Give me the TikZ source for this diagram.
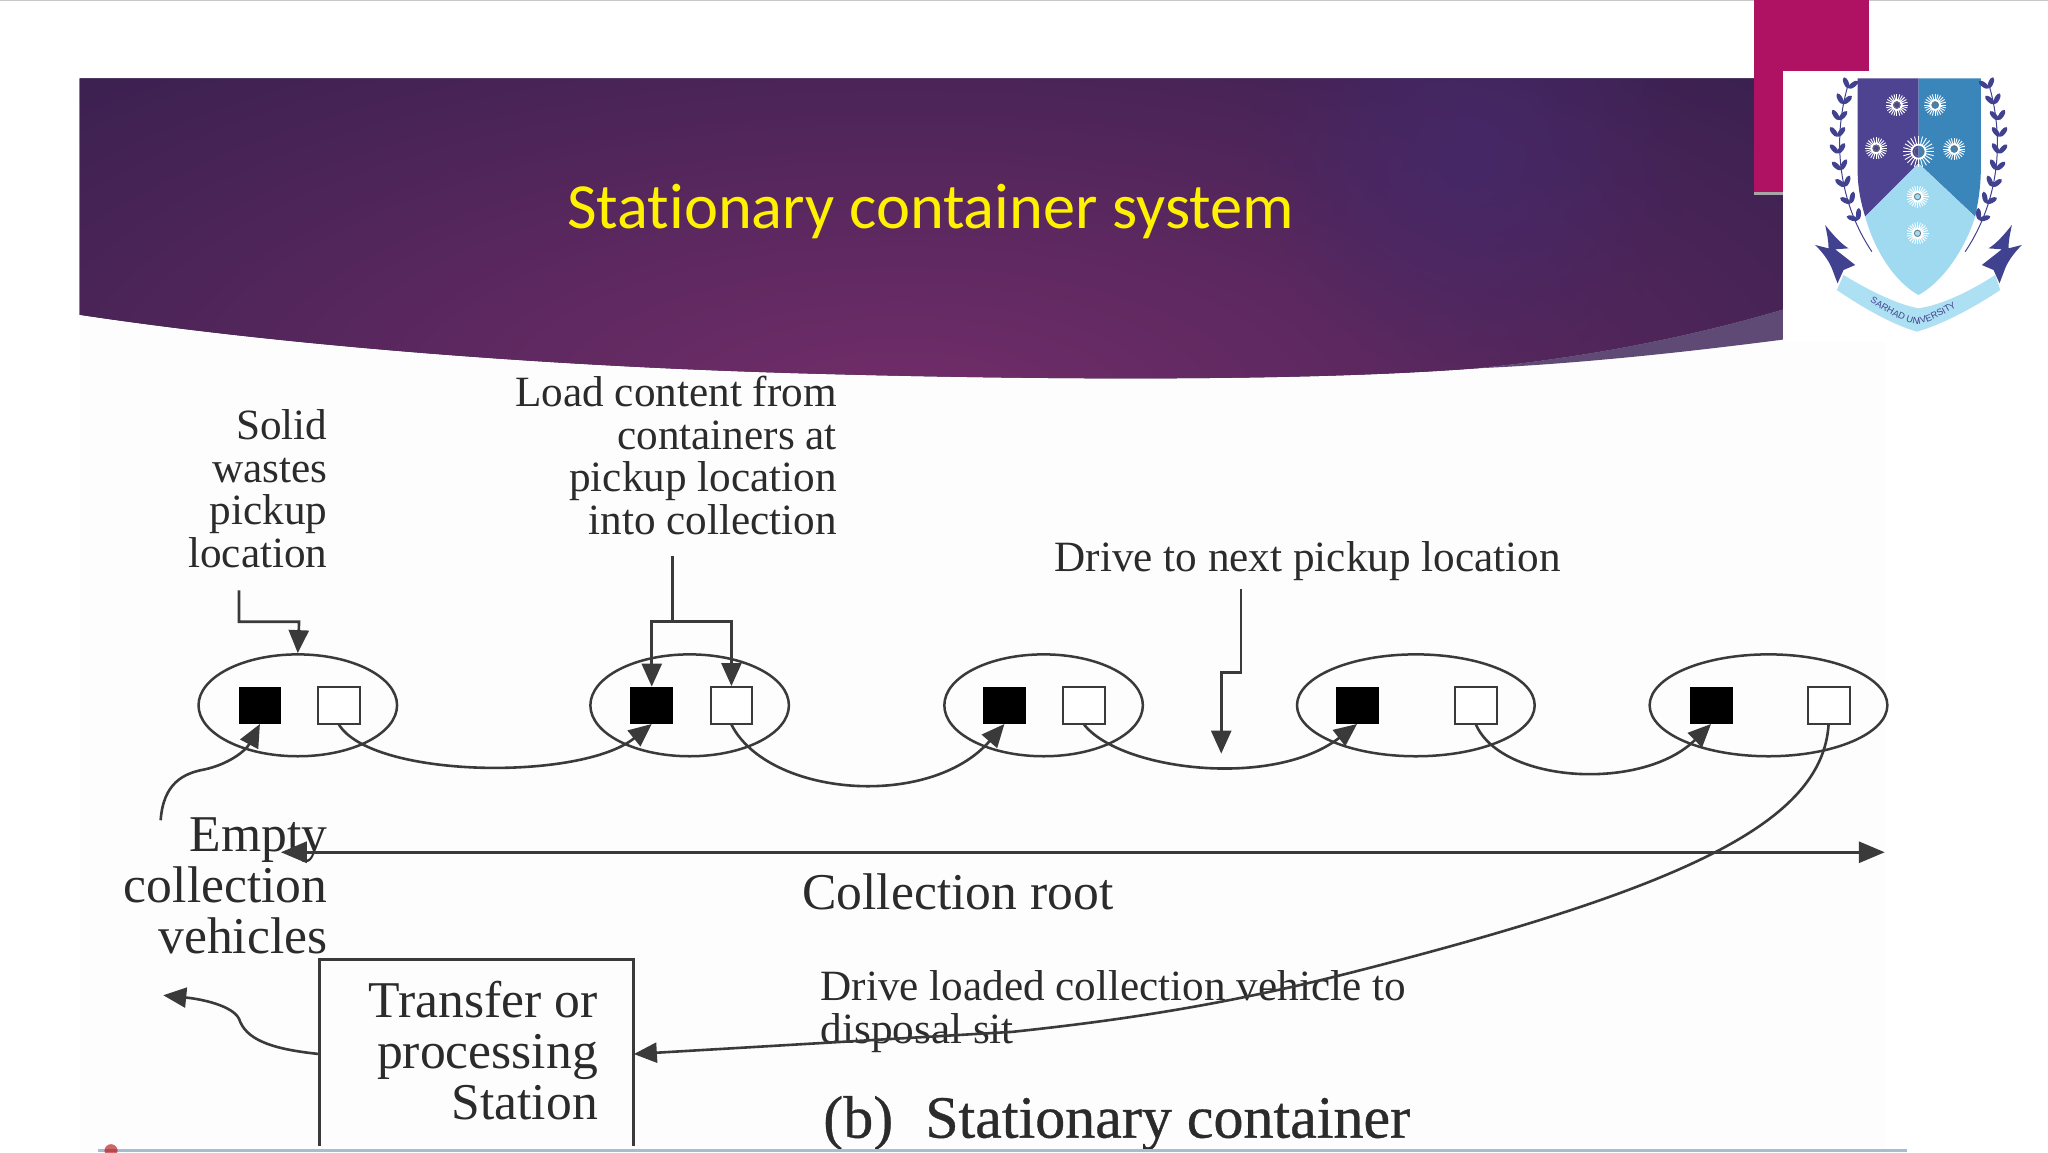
\documentclass[tikz,border=0pt]{standalone}
\usepackage{fontspec}
\setmainfont{Liberation Serif}
\newfontfamily\titlefont[Ligatures=NoCommon]{Carlito}
\newfontfamily\capfont[FakeBold=0.6]{Liberation Serif}
\newfontfamily\ribbonfont{Liberation Sans}
\usetikzlibrary{arrows.meta,shapes.geometric,fadings,decorations.text}
\definecolor{ink}{HTML}{2B2B2B}
\definecolor{lineink}{HTML}{3A3A3A}
\definecolor{bandbase}{HTML}{2F1E4B}
\definecolor{bandglow}{HTML}{722D69}
\definecolor{bandblue}{HTML}{44296B}
\definecolor{wedge}{HTML}{5E4A75}
\definecolor{pinkbar}{HTML}{B01263}
\definecolor{shieldL}{HTML}{4E4391}
\definecolor{shieldR}{HTML}{3A86BB}
\definecolor{shieldC}{HTML}{9FDAF0}
\definecolor{laurel}{HTML}{41428F}
\definecolor{edgeblue}{HTML}{A9BCCF}
\tikzfading[name=softglow,inner color=transparent!20,outer color=transparent!100]
\newcommand{\unitlen}{0.65306pt}
\newcommand{\logosun}[3]{%
  \foreach \a in {0,15,...,345}{\draw[white,line width=0.45pt] (#1,#2)+(\a:0.45*#3)--+(\a:#3);}
  \draw[white,line width=0.9pt] (#1,#2) circle [radius=0.45*#3];
  \draw[black!55,line width=0.35pt] (#1,#2) circle [radius=0.28*#3];
}
\tikzset{
  site/.style={ellipse,draw=lineink,line width=1.25pt,inner sep=0pt,minimum height=78*\unitlen},
  full/.style={rectangle,fill=black,draw=black,inner sep=0pt,minimum width=32*\unitlen,minimum height=28*\unitlen},
  hollow/.style={rectangle,fill=white,draw=lineink,line width=1pt,inner sep=0pt,minimum width=32*\unitlen,minimum height=28*\unitlen},
  conn/.style={draw=lineink,line width=1.3pt},
  tip/.style={-{Triangle[length=11.5pt,width=10pt]}},
  smalltxt/.style={text=ink,inner sep=0pt,align=right,font=\fontsize{21.6pt}{21.2pt}\selectfont},
  bigtxt/.style={text=ink,inner sep=0pt,align=right,font=\fontsize{25.8pt}{25.5pt}\selectfont},
}
\begin{document}
\begin{tikzpicture}[x=\unitlen,y=-\unitlen]
\useasboundingbox (0,0) rectangle (1568,882);
\fill[white] (0,0) rectangle (1568,882);
\fill[black!22] (0,0) rectangle (1568,1);
\fill[black!0.6] (61,230) rectangle (1443,882);
% banner
\begin{scope}
\clip (61,60) -- (1365,60) -- (1365,237) .. controls (1280,262) and (1200,275) .. (1130,282)
  .. controls (1000,292) and (800,291) .. (620,286) .. controls (400,280) and (200,262) .. (61,241) -- cycle;
\fill[bandbase] (0,0) rectangle (1568,400);
\shade[inner color=bandglow,outer color=bandbase] (690,310) ellipse [x radius=1100,y radius=430];
\fill[bandblue,path fading=softglow] (1125,118) circle [radius=170];
\end{scope}
\fill[wedge] (1365,237) -- (1365,260) .. controls (1280,271) and (1200,279) .. (1130,282) .. controls (1200,275) and (1280,262) .. (1365,237) -- cycle;
\node[anchor=base west,inner sep=0pt,text=yellow,font=\titlefont\fontsize{32.2pt}{34pt}\selectfont] (title) at (434,175) {Stationary container system};
% pink bar and logo panel
\fill[black!35] (1343,147) rectangle (1365,149);
\fill[pinkbar] (1343,0) rectangle (1431,147);
\fill[white] (1365,54) rectangle (1568,262);
% logo
\begin{scope}[shift={(1301.7,0)},scale=0.2552]
  \fill[shieldL] (472,235) -- (655,235) -- (655,490) -- (495,650) .. controls (480,600) and (472,560) .. (472,500) -- cycle;
  \fill[shieldR] (655,235) -- (842,235) -- (842,500) .. controls (842,560) and (835,600) .. (825,650) -- (655,490) -- cycle;
  \fill[shieldC] (495,650) -- (655,490) -- (825,650) .. controls (790,760) and (720,850) .. (655,885) .. controls (590,850) and (525,760) .. (495,650) -- cycle;
  \logosun{590}{315}{33}
  \logosun{705}{315}{33}
  \logosun{528}{445}{33}
  \logosun{655}{455}{47}
  \logosun{762}{447}{33}
  \logosun{652}{590}{33}
  \logosun{652}{700}{33}
  \foreach \bs/\bx in {1/0,-1/1310}{
    \begin{scope}[shift={(\bx,0)},xscale=\bs]
      \draw[laurel,line width=0.5pt] (445,250) .. controls (400,400) and (405,590) .. (515,755);
      \foreach \lx/\ly/\ltan in {445/265/75,428/312/80,416/360/85,412/410/90,414/460/95,422/510/100,434/560/105,452/610/115,474/660/125}{
        \pgfmathsetmacro{\laa}{\ltan+38}
        \pgfmathsetmacro{\lab}{\ltan-38}
        \pgfmathsetmacro{\lxx}{\lx+18}
        \fill[laurel,rotate around={\laa:(\lx,\ly)}] (\lxx,\ly) ellipse [x radius=18,y radius=7.5];
        \fill[laurel,rotate around={\lab:(\lx,\ly)}] (\lxx,\ly) ellipse [x radius=18,y radius=7.5];
      }
      \fill[laurel] (345,735) -- (385,745) .. controls (385,720) and (380,700) .. (375,675)
        .. controls (395,700) and (420,730) .. (445,745) -- (405,748) -- (465,795) -- (430,810) -- (412,850) -- (395,805) .. controls (385,780) and (365,755) .. (345,735) -- cycle;
    \end{scope}
  }
  \fill[shieldC!85!white] (430,825) .. controls (520,880) and (600,915) .. (655,925) .. controls (720,915) and (800,880) .. (885,825)
    -- (900,870) .. controls (810,930) and (720,975) .. (650,995) .. controls (580,975) and (490,925) .. (410,870) -- cycle;
  \path[postaction={decorate,decoration={text along path,text align=center,
    text={|\ribbonfont\fontsize{4.6pt}{6pt}\selectfont\color{laurel}|SARHAD UNIVERSITY}}}]
    (478,885) .. controls (560,940) and (610,968) .. (650,974) .. controls (690,968) and (750,935) .. (800,900);
\end{scope}
% sites
\node[site,minimum width=152*\unitlen] (e1) at (228,540) {};
\node[site,minimum width=152*\unitlen] (e2) at (528,540) {};
\node[site,minimum width=152*\unitlen] (e3) at (799,540) {};
\node[site,minimum width=182*\unitlen] (e4) at (1084,540) {};
\node[site,minimum width=182*\unitlen] (e5) at (1354,540) {};
\node[full] (b1) at (199,540) {}; \node[hollow] (w1) at (259.5,540) {};
\node[full] (b2) at (499,540) {}; \node[hollow] (w2) at (560,540) {};
\node[full] (b3) at (769,540) {}; \node[hollow] (w3) at (830,540) {};
\node[full] (b4) at (1039,540) {}; \node[hollow] (w4) at (1130,540) {};
\node[full] (b5) at (1310,540) {}; \node[hollow] (w5) at (1400,540) {};
% labels
\node[smalltxt,anchor=north east] (lsolid) at (251,313.5) {Solid\\wastes\\pickup\\location};
\node[smalltxt,anchor=north east] (lload) at (641,288) {Load content from\\containers at\\pickup location\\into collection};
\node[smalltxt,anchor=base west] (ldrive) at (807,437.5) {Drive to next pickup location};
\node[bigtxt,anchor=north east] (lempty) at (251,625.5) {Empty\\collection\\vehicles};
\node[bigtxt,anchor=base west] (lroot) at (614,696) {Collection root};
\node[smalltxt,anchor=north west,align=left] (lloaded) at (628,743) {Drive loaded collection vehicle to\\disposal sit};
\node[anchor=base west,inner sep=0pt,text=ink,font=\capfont\fontsize{30pt}{32pt}\selectfont] (lcaption) at (630,871) {(b)\hspace{16pt}Stationary container};
% station box (open at the page bottom)
\node[inner sep=0pt,minimum width=240*\unitlen,minimum height=142*\unitlen] (station) at (365,806) {};
\draw[conn,line width=1.5pt] (station.south west) -- (station.north west) -- (station.north east) -- (station.south east);
\node[bigtxt,anchor=north east] (lstation) at (458,751) {Transfer or\\processing\\Station};
% pickup-location arrow
\coordinate (solidstart) at (183,452);
\coordinate (solidbend) at (183,476);
\draw[conn,tip] (solidstart) -- (solidbend) -- (229,476) -- (e1.north);
% load arrows
\coordinate (loadstart) at (515,426);
\coordinate (loadjoin) at (515,476);
\draw[conn] (loadstart) -- (loadjoin);
\draw[conn,tip] (loadjoin) -- (b2.north |- loadjoin) -- (b2.north);
\draw[conn,tip] (loadjoin) -- (w2.north |- loadjoin) -- (w2.north);
% drive arrow
\coordinate (drivestart) at (950,451);
\coordinate (driveend) at (935,577);
\draw[conn,tip] (drivestart) -- (950,515) -- (935,515) -- (driveend);
% hops
\draw[conn,tip] (w1.south) .. controls (285,596) and (445,598) .. (b2.south);
\draw[conn,tip] (w2.south) .. controls (588,610) and (712,620) .. (b3.south);
\draw[conn,tip] (w3.south) .. controls (858,590) and (975,604) .. (b4.south);
\draw[conn,tip] (w4.south) .. controls (1150,600) and (1258,606) .. (b5.south);
% empty vehicles arrow
\coordinate (emptystart) at (123,628);
\draw[conn,tip] (emptystart) .. controls (125,600) and (140,592) .. (157,589) .. controls (175,585) and (188,575) .. (b1.south);
% collection route
\coordinate (routeleft) at (215,652.5);
\coordinate (routeright) at (1443,652.5);
\draw[conn,line width=1.6pt,{Triangle[length=13pt,width=10.5pt]}-{Triangle[length=13pt,width=10.5pt]}] (routeleft) -- (routeright);
% loaded vehicle
\coordinate (stationin) at (station.east |- 0,807);
\draw[conn,tip] (w5.south) .. controls (1395,630) and (1290,680) .. (1029,746) .. controls (930,771) and (850,782) .. (775,790) -- (stationin);
% leaving station
\coordinate (stationout) at (station.west |- 0,807);
\coordinate (leaveend) at (125,762);
\draw[conn,tip] (stationout) .. controls (205,803) and (188,795) .. (183,780) .. controls (178,770) and (155,765) .. (leaveend);
% bottom edge
\fill[edgeblue] (75,879.5) rectangle (1460,882);
\fill[red!70!black,opacity=0.6] (85,881) circle [radius=5];
\end{tikzpicture}
\end{document}
